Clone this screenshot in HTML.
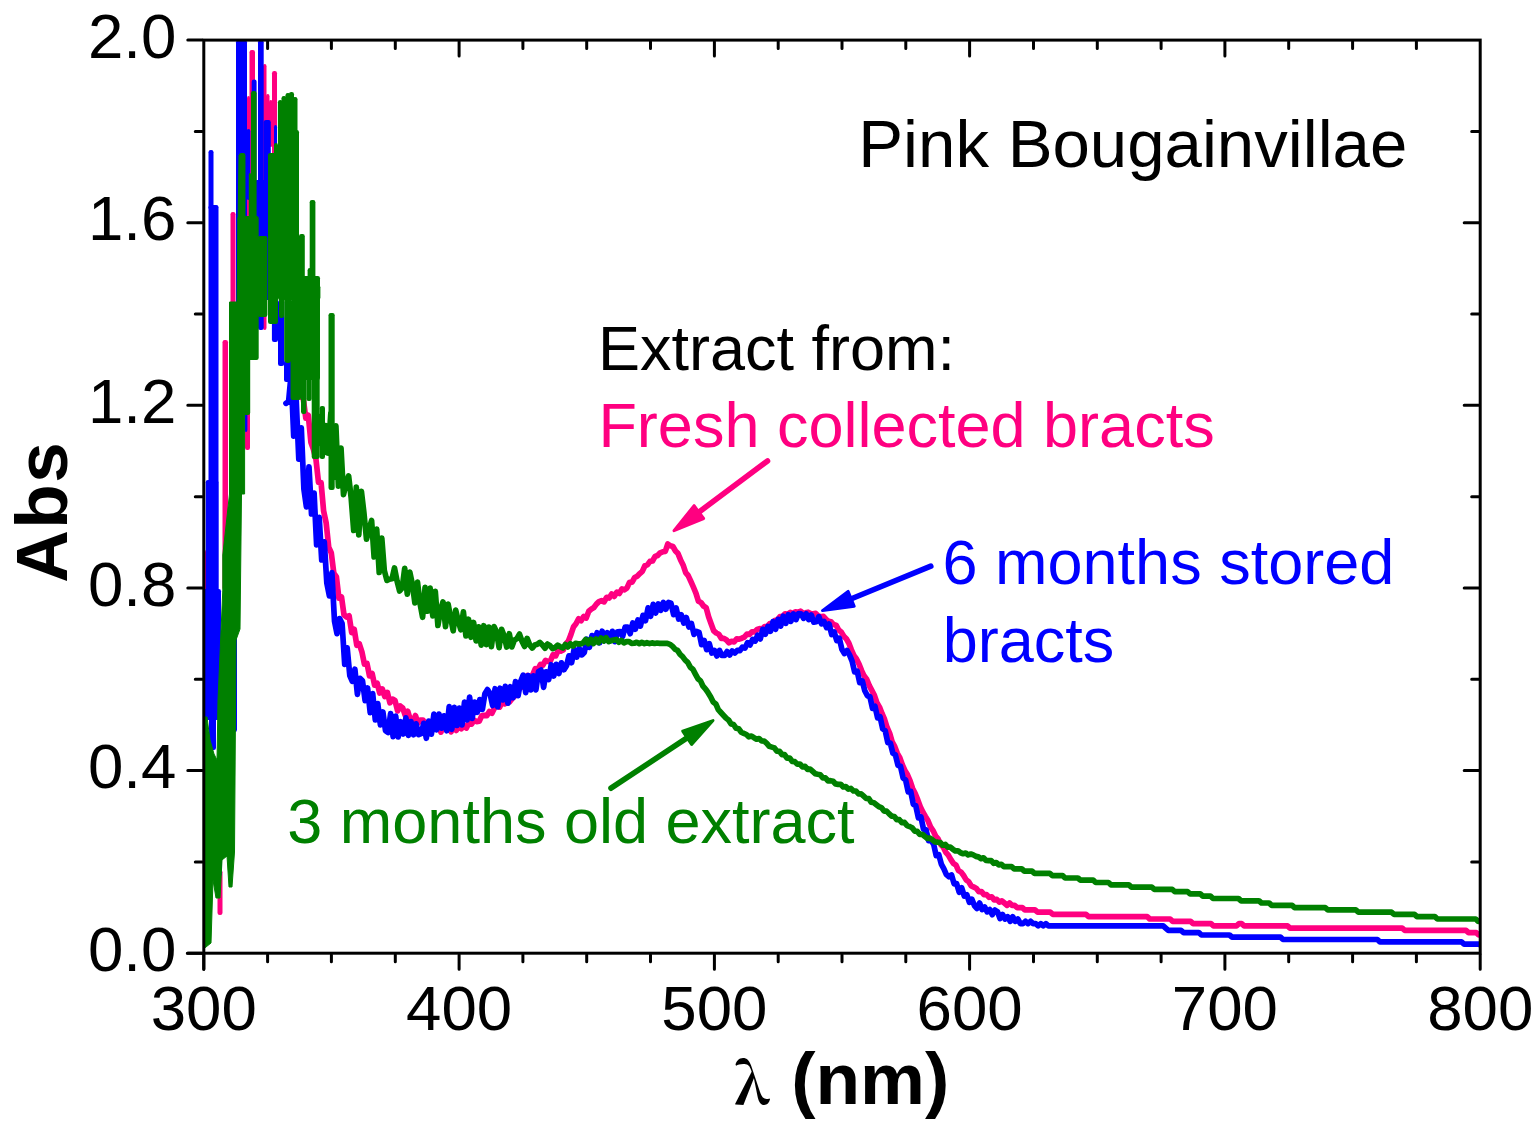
<!DOCTYPE html>
<html><head><meta charset="utf-8"><title>Pink Bougainvillae</title>
<style>html,body{margin:0;padding:0;background:#fff;overflow:hidden;width:1539px;height:1130px;}svg{display:block;}</style>
</head><body>
<svg width="1539" height="1130" viewBox="0 0 1539 1130"><clipPath id="c"><rect x="203.8" y="40.1" width="1276.4" height="913.1"/></clipPath>
<g clip-path="url(#c)">
<rect x="203.3" y="550.0" width="2.7" height="150.0" rx="2.2" fill="#FF0080"/>
<rect x="217.5" y="870.0" width="5.0" height="45.0" rx="2.2" fill="#FF0080"/>
<rect x="222.5" y="340.0" width="5.5" height="250.0" rx="2.2" fill="#FF0080"/>
<rect x="230.5" y="212.0" width="5.0" height="388.0" rx="2.2" fill="#FF0080"/>
<rect x="249.5" y="50.0" width="5.5" height="295.0" rx="2.2" fill="#FF0080"/>
<rect x="247.0" y="96.0" width="3.0" height="234.0" rx="2.2" fill="#FF0080"/>
<rect x="263.0" y="64.0" width="3.5" height="266.0" rx="2.2" fill="#FF0080"/>
<rect x="272.0" y="71.0" width="5.0" height="129.0" rx="2.2" fill="#FF0080"/>
<rect x="266.0" y="94.0" width="3.5" height="66.0" rx="2.2" fill="#FF0080"/>
<rect x="269.0" y="100.0" width="3.5" height="47.0" rx="2.2" fill="#FF0080"/>
<rect x="245.0" y="330.0" width="5.0" height="120.0" rx="2.2" fill="#FF0080"/>
<rect x="250.2" y="287.0" width="6.6" height="55.0" rx="2.2" fill="#FF0080"/>
<rect x="293.0" y="345.0" width="6.3" height="45.0" rx="2.2" fill="#FF0080"/>
<polyline points="293.0,353.2 295.6,371.6 298.1,374.6 300.7,397.2 303.2,397.9 305.8,418.1 308.3,415.3 310.9,442.2 313.4,449.3 316.0,459.6 318.5,482.5 321.1,482.7 323.6,510.9 326.2,523.2 328.7,547.1 331.3,553.0 333.8,573.1 336.4,576.8 338.9,598.2 341.5,596.9 344.0,615.0 346.6,617.0 349.1,615.7 351.7,632.6 354.2,629.3 356.8,645.3 359.3,643.8 361.9,651.8 364.4,664.1 367.0,663.5 369.5,675.9 372.1,673.4 374.6,685.2 377.2,683.2 379.7,693.0 382.3,689.0 384.8,696.5 387.4,692.4 389.9,702.8 392.5,699.1 395.0,700.5 397.6,710.9 400.1,705.9 402.7,708.0 405.2,715.2 407.8,711.3 410.3,719.8 412.9,721.4 415.4,715.5 418.0,723.0 420.5,720.2 423.1,720.0 425.6,726.3 428.2,722.3 430.7,728.0 433.3,723.2 435.8,728.2 438.4,726.0 440.9,732.1 443.5,725.7 446.0,728.0 448.6,727.5 451.1,731.8 453.7,726.7 456.2,730.4 458.8,726.4 461.3,728.8 463.9,725.3 466.4,728.1 469.0,722.8 471.5,724.1 474.1,720.1 476.6,721.7 479.2,721.3 481.7,715.9 484.3,715.4 486.8,715.7 489.4,711.5 491.9,713.3 494.5,707.9 497.0,704.9 499.6,707.1 502.1,702.2 504.7,703.8 507.2,699.4 509.8,701.6 512.3,698.4 514.9,695.9 517.4,693.4 520.0,686.2 522.5,687.0 525.1,678.3 527.6,675.4 530.2,677.2 532.7,674.8 535.3,668.6 537.8,669.6 540.4,664.4 542.9,665.2 545.5,660.5 548.0,661.4 550.6,660.3 553.1,654.6 555.7,655.9 558.2,650.3 560.8,651.1 563.3,650.0 565.9,643.9 568.4,641.0 570.9,634.6 573.5,626.9 576.0,623.8 578.6,618.8 581.1,620.8 583.7,616.5 586.2,618.0 588.8,611.2 591.3,609.1 593.9,607.5 596.4,604.1 599.0,601.6 601.5,600.7 604.1,601.9 606.6,597.3 609.2,598.0 611.7,594.0 614.3,596.4 616.8,592.1 619.4,593.5 621.9,588.9 624.5,589.8 627.0,587.9 629.6,582.3 632.1,582.1 634.7,577.5 637.2,576.2 639.8,573.6 642.3,571.4 644.9,565.7 647.4,564.9 650.0,561.4 652.5,561.0 655.1,556.4 657.6,555.5 660.2,552.8 662.7,551.8 665.3,551.4 667.8,544.0 670.4,545.8 672.9,546.5 675.5,551.0 678.0,553.6 680.6,559.9 683.1,564.9 685.7,572.6 688.2,575.6 690.8,581.2 693.3,586.9 695.9,593.1 698.4,601.2 701.0,602.5 703.5,606.0 706.1,607.6 708.6,616.8 711.2,624.0 713.7,630.8 716.3,633.0 718.8,634.2 721.4,638.5 723.9,638.4 726.5,640.0 729.0,642.8 731.6,641.3 734.1,641.9 736.7,638.9 739.2,639.1 741.8,638.2 744.3,637.1 746.9,634.2 749.4,634.4 752.0,631.8 754.5,632.0 757.1,629.4 759.6,628.6 762.2,629.0 764.7,626.5 767.3,626.4 769.8,623.5 772.4,623.3 774.9,620.4 777.5,619.6 780.0,616.7 782.6,616.5 785.1,613.8 787.7,614.3 790.2,612.4 792.8,613.5 795.3,611.8 797.9,612.4 800.4,611.2 803.0,613.0 805.5,612.8 808.1,612.2 810.6,613.5 813.2,613.8 815.7,613.4 818.3,616.1 820.8,616.8 823.4,616.4 825.9,619.2 828.5,621.2 831.0,621.8 833.6,624.6 836.1,625.2 838.7,630.1 841.2,632.0 843.8,636.2 846.3,638.7 848.9,643.2 851.4,649.8 854.0,655.6 856.5,659.0 859.1,664.2 861.6,670.6 864.2,676.1 866.7,679.3 869.3,685.6 871.8,690.4 874.4,695.4 876.9,702.6 879.5,707.1 882.0,713.5 884.6,719.5 887.1,727.5 889.7,733.3 892.2,742.0 894.8,746.7 897.3,753.3 899.9,758.0 902.4,764.9 905.0,770.6 907.5,774.8 910.1,780.8 912.6,788.4 915.2,793.6 917.7,799.7 920.3,806.7 922.8,811.9 925.4,816.5 927.9,820.5 930.5,826.9 933.0,830.6 935.6,836.0 938.1,838.9 940.7,844.4 943.2,847.0 945.8,852.3 948.3,855.1 950.9,859.7 953.4,863.4 956.0,865.1 958.5,870.6 961.1,872.1 963.6,875.5 966.2,879.9 968.7,881.7 971.3,885.9 973.8,887.1 976.4,888.5 978.9,891.7 981.5,891.6 984.0,894.6 986.6,894.6 989.1,897.3 991.7,896.8 994.2,899.9 996.8,899.4 999.3,902.1 1001.9,900.8 1004.4,903.0 1007.0,905.3 1009.5,903.0 1012.1,905.3 1014.6,905.3 1017.2,907.6 1019.7,907.6 1022.3,907.6 1024.8,909.9 1027.4,909.9 1029.9,909.9 1032.5,909.9 1035.0,909.9 1037.6,912.2 1040.1,912.2 1042.7,912.2 1045.2,912.2 1047.8,912.2 1050.3,912.2 1052.9,914.4 1055.4,914.4 1058.0,914.4 1060.5,914.4 1063.1,914.4 1065.6,914.4 1068.2,914.4 1070.7,914.4 1073.3,914.4 1075.8,914.4 1078.4,914.4 1080.9,914.4 1083.5,914.4 1086.0,914.4 1088.6,916.7 1091.1,916.7 1093.7,916.7 1096.2,916.7 1098.8,916.7 1101.3,916.7 1103.9,916.7 1106.4,916.7 1109.0,916.7 1111.5,916.7 1114.1,916.7 1116.6,916.7 1119.2,916.7 1121.7,916.7 1124.3,916.7 1126.8,916.7 1129.4,916.7 1131.9,916.7 1134.5,916.7 1137.0,916.7 1139.6,916.7 1142.1,916.7 1144.7,916.7 1147.2,916.7 1149.8,919.0 1152.3,919.0 1154.9,919.0 1157.4,919.0 1160.0,919.0 1162.5,919.0 1165.1,919.0 1167.6,919.0 1170.2,919.0 1172.7,921.3 1175.3,921.3 1177.8,921.3 1180.4,921.3 1182.9,921.3 1185.5,921.3 1188.0,921.3 1190.6,921.3 1193.1,923.6 1195.7,923.6 1198.2,923.6 1200.8,923.6 1203.3,923.6 1205.9,923.6 1208.4,923.6 1211.0,923.6 1213.5,925.8 1216.1,925.8 1218.6,925.8 1221.2,925.8 1223.7,925.8 1226.3,925.8 1228.8,925.8 1231.4,925.8 1233.9,925.8 1236.5,925.8 1239.0,923.6 1241.6,923.6 1244.1,925.8 1246.7,925.8 1249.2,925.8 1251.8,925.8 1254.3,925.8 1256.9,925.8 1259.4,925.8 1262.0,925.8 1264.5,925.8 1267.1,925.8 1269.6,925.8 1272.2,925.8 1274.7,925.8 1277.3,925.8 1279.8,925.8 1282.4,925.8 1284.9,925.8 1287.5,925.8 1290.0,928.1 1292.6,928.1 1295.1,928.1 1297.7,928.1 1300.2,928.1 1302.8,928.1 1305.3,928.1 1307.9,928.1 1310.4,928.1 1313.0,928.1 1315.5,928.1 1318.1,928.1 1320.6,928.1 1323.2,928.1 1325.7,928.1 1328.3,928.1 1330.8,928.1 1333.4,928.1 1335.9,928.1 1338.5,928.1 1341.0,928.1 1343.6,928.1 1346.1,928.1 1348.7,928.1 1351.2,928.1 1353.8,928.1 1356.3,928.1 1358.9,928.1 1361.4,928.1 1364.0,928.1 1366.5,928.1 1369.1,928.1 1371.6,928.1 1374.2,928.1 1376.7,928.1 1379.3,928.1 1381.8,928.1 1384.4,928.1 1386.9,928.1 1389.5,928.1 1392.0,928.1 1394.6,928.1 1397.1,928.1 1399.7,928.1 1402.2,928.1 1404.8,930.4 1407.3,930.4 1409.9,930.4 1412.4,930.4 1415.0,930.4 1417.5,930.4 1420.1,930.4 1422.6,930.4 1425.2,930.4 1427.7,930.4 1430.3,930.4 1432.8,930.4 1435.4,930.4 1437.9,930.4 1440.5,930.4 1443.0,930.4 1445.6,930.4 1448.1,930.4 1450.7,930.4 1453.2,930.4 1455.8,930.4 1458.3,930.4 1460.9,930.4 1463.4,930.4 1466.0,930.4 1468.5,932.7 1471.1,932.7 1473.6,932.7 1476.2,932.7 1478.7,935.0 1481.3,935.0 1482.0,936.0" fill="none" stroke="#FF0080" stroke-width="5.7" stroke-linejoin="round" stroke-linecap="round"/>
<rect x="208.5" y="150.0" width="5.0" height="60.0" rx="2.2" fill="#0000FF"/>
<rect x="208.5" y="205.0" width="10.0" height="515.0" rx="2.2" fill="#0000FF"/>
<rect x="205.7" y="480.0" width="12.7" height="240.0" rx="2.2" fill="#0000FF"/>
<rect x="203.0" y="589.0" width="18.0" height="129.0" rx="2.2" fill="#0000FF"/>
<rect x="209.0" y="700.0" width="7.0" height="50.0" rx="2.2" fill="#0000FF"/>
<rect x="233.0" y="630.0" width="4.0" height="102.0" rx="2.2" fill="#0000FF"/>
<rect x="236.0" y="40.0" width="11.0" height="290.0" rx="2.2" fill="#0000FF"/>
<rect x="236.0" y="300.0" width="3.0" height="54.0" rx="2.2" fill="#0000FF"/>
<rect x="258.0" y="40.0" width="5.7" height="290.0" rx="2.2" fill="#0000FF"/>
<rect x="255.0" y="180.0" width="11.5" height="99.0" rx="2.2" fill="#0000FF"/>
<rect x="251.7" y="79.6" width="4.9" height="120.4" rx="2.2" fill="#0000FF"/>
<rect x="246.7" y="129.0" width="3.6" height="71.0" rx="2.2" fill="#0000FF"/>
<rect x="263.7" y="120.0" width="7.1" height="180.0" rx="2.2" fill="#0000FF"/>
<rect x="274.0" y="125.0" width="3.0" height="175.0" rx="2.2" fill="#0000FF"/>
<rect x="271.9" y="300.0" width="6.1" height="42.0" rx="2.2" fill="#0000FF"/>
<rect x="278.0" y="300.0" width="6.2" height="66.0" rx="2.2" fill="#0000FF"/>
<rect x="284.0" y="360.0" width="12.6" height="22.0" rx="2.2" fill="#0000FF"/>
<rect x="244.6" y="330.0" width="2.8" height="102.0" rx="2.2" fill="#0000FF"/>
<rect x="217.3" y="833.0" width="4.7" height="43.0" rx="2.2" fill="#0000FF"/>
<polyline points="286.0,403.3 288.6,401.5 291.1,374.5 293.7,436.1 296.2,400.0 298.8,459.2 301.3,427.9 303.9,489.2 306.4,506.9 309.0,466.8 311.5,514.0 314.1,493.0 316.6,544.9 319.2,517.4 321.7,560.0 324.3,541.9 326.8,582.9 329.4,595.9 331.9,572.7 334.5,621.1 337.0,633.7 339.6,618.6 342.1,623.6 344.7,664.4 347.2,647.9 349.8,675.5 352.3,681.3 354.9,669.2 357.4,694.3 360.0,678.4 362.5,680.8 365.1,700.7 367.6,688.0 370.2,712.7 372.7,693.5 375.3,720.0 377.8,703.5 380.4,725.0 382.9,712.0 385.5,730.7 388.0,732.5 390.6,713.6 393.1,736.7 395.7,716.2 398.2,737.0 400.8,721.7 403.3,734.0 405.9,717.9 408.4,735.4 411.0,721.6 413.5,734.8 416.1,723.8 418.6,734.7 421.2,733.7 423.7,723.3 426.3,738.3 428.8,721.0 431.4,734.1 433.9,714.1 436.5,729.9 439.0,714.1 441.6,728.2 444.1,715.9 446.7,730.8 449.2,706.6 451.8,729.3 454.3,707.4 456.9,725.5 459.4,708.1 462.0,725.0 464.5,702.1 467.1,720.0 469.6,697.0 472.2,718.4 474.7,702.0 477.3,712.3 479.8,699.6 482.4,709.4 484.9,693.8 487.5,689.6 490.0,693.6 492.6,705.5 495.1,688.7 497.7,706.9 500.2,688.2 502.8,699.9 505.3,686.4 507.9,703.2 510.4,686.7 513.0,697.7 515.5,681.6 518.1,695.7 520.6,681.5 523.2,675.1 525.7,692.6 528.3,675.5 530.8,689.9 533.4,675.9 535.9,689.9 538.5,671.7 541.0,670.1 543.6,687.4 546.1,671.8 548.7,679.6 551.2,664.7 553.8,676.0 556.3,664.3 558.9,673.5 561.4,662.8 564.0,669.7 566.5,665.7 569.0,655.8 571.6,662.7 574.1,649.3 576.7,657.1 579.2,648.4 581.8,654.9 584.3,652.4 586.9,639.2 589.4,647.3 592.0,635.6 594.5,642.3 597.1,632.7 599.6,642.8 602.2,631.2 604.7,640.5 607.3,632.8 609.8,640.9 612.4,631.3 614.9,641.7 617.5,631.8 620.0,631.7 622.6,636.4 625.1,627.2 627.7,627.2 630.2,633.7 632.8,622.9 635.3,629.2 637.9,619.9 640.4,626.1 643.0,615.3 645.5,620.7 648.1,607.9 650.6,616.3 653.2,604.4 655.7,613.0 658.3,604.0 660.8,610.3 663.4,602.5 665.9,609.2 668.5,602.5 671.0,603.3 673.6,614.6 676.1,608.0 678.7,619.1 681.2,614.7 683.8,623.1 686.3,617.5 688.9,627.0 691.4,623.4 694.0,634.4 696.5,631.5 699.1,632.5 701.6,644.6 704.2,640.5 706.7,649.7 709.3,643.7 711.8,653.1 714.4,650.4 716.9,656.0 719.5,650.4 722.0,655.5 724.6,655.3 727.1,651.6 729.7,654.9 732.2,651.0 734.8,653.1 737.3,650.4 739.9,650.7 742.4,647.2 745.0,648.1 747.5,642.7 750.1,644.9 752.6,639.4 755.2,641.0 757.7,635.2 760.3,638.9 762.8,629.3 765.4,634.2 767.9,626.4 770.5,631.3 773.0,621.6 775.6,629.2 778.1,619.3 780.7,626.0 783.2,616.2 785.8,623.4 788.3,614.7 790.9,621.4 793.4,613.9 796.0,619.6 798.5,613.7 801.1,613.9 803.6,618.2 806.2,613.8 808.7,619.6 811.3,615.0 813.8,622.2 816.4,621.8 818.9,616.6 821.5,623.8 824.0,621.5 826.6,627.6 829.1,624.0 831.7,634.6 834.2,632.1 836.8,640.7 839.3,638.2 841.9,649.3 844.4,653.5 847.0,650.5 849.5,654.9 852.1,661.2 854.6,671.9 857.2,671.1 859.7,682.6 862.3,681.0 864.8,690.8 867.4,695.8 869.9,696.7 872.5,708.3 875.0,706.3 877.6,717.9 880.1,716.8 882.7,728.8 885.2,730.7 887.8,742.6 890.3,743.0 892.9,753.2 895.4,754.9 898.0,765.4 900.5,766.3 903.1,778.0 905.6,779.9 908.2,791.8 910.7,791.3 913.3,804.3 915.8,805.8 918.4,817.9 920.9,816.9 923.5,829.2 926.0,829.7 928.6,840.7 931.1,840.3 933.7,844.5 936.2,855.7 938.8,854.8 941.3,864.1 943.9,868.8 946.4,874.6 949.0,876.7 951.5,874.9 954.1,883.8 956.6,883.5 959.2,892.3 961.7,887.8 964.3,896.1 966.8,894.7 969.4,902.4 971.9,899.2 974.5,905.8 977.0,908.5 979.6,903.0 982.1,909.5 984.7,906.9 987.2,911.9 989.8,909.6 992.3,914.7 994.9,910.1 997.4,911.6 1000.0,918.6 1002.5,914.4 1005.1,919.0 1007.6,916.7 1010.2,921.3 1012.7,916.7 1015.3,921.3 1017.8,919.0 1020.4,923.6 1022.9,923.6 1025.5,921.3 1028.0,923.6 1030.6,921.3 1033.1,923.6 1035.7,923.6 1038.2,925.8 1040.8,923.6 1043.3,925.8 1045.9,923.6 1048.4,925.8 1051.0,925.8 1053.5,925.8 1056.1,925.8 1058.6,925.8 1061.2,925.8 1063.7,925.8 1066.3,925.8 1068.8,925.8 1071.4,925.8 1073.9,925.8 1076.5,925.8 1079.0,925.8 1081.6,925.8 1084.1,925.8 1086.7,925.8 1089.2,925.8 1091.8,925.8 1094.3,925.8 1096.9,925.8 1099.4,925.8 1102.0,925.8 1104.5,925.8 1107.1,925.8 1109.6,925.8 1112.2,925.8 1114.7,925.8 1117.3,925.8 1119.8,925.8 1122.4,925.8 1124.9,925.8 1127.5,925.8 1130.0,925.8 1132.6,925.8 1135.1,925.8 1137.7,925.8 1140.2,925.8 1142.8,925.8 1145.3,925.8 1147.9,925.8 1150.4,925.8 1153.0,925.8 1155.5,925.8 1158.1,925.8 1160.6,925.8 1163.2,925.8 1165.7,928.1 1168.3,930.4 1170.8,930.4 1173.4,930.4 1175.9,930.4 1178.5,930.4 1181.0,930.4 1183.6,932.7 1186.1,932.7 1188.7,932.7 1191.2,932.7 1193.8,932.7 1196.3,932.7 1198.9,932.7 1201.4,935.0 1204.0,935.0 1206.5,935.0 1209.1,935.0 1211.6,935.0 1214.2,935.0 1216.7,935.0 1219.3,935.0 1221.8,935.0 1224.4,935.0 1226.9,935.0 1229.5,935.0 1232.0,937.2 1234.6,937.2 1237.1,937.2 1239.7,937.2 1242.2,937.2 1244.8,937.2 1247.3,937.2 1249.9,937.2 1252.4,937.2 1255.0,937.2 1257.5,937.2 1260.1,937.2 1262.6,937.2 1265.2,937.2 1267.7,937.2 1270.3,937.2 1272.8,937.2 1275.4,937.2 1277.9,937.2 1280.5,937.2 1283.0,939.5 1285.6,939.5 1288.1,939.5 1290.7,939.5 1293.2,939.5 1295.8,939.5 1298.3,939.5 1300.9,939.5 1303.4,939.5 1306.0,939.5 1308.5,939.5 1311.1,939.5 1313.6,939.5 1316.2,939.5 1318.7,939.5 1321.3,939.5 1323.8,939.5 1326.4,939.5 1328.9,939.5 1331.5,939.5 1334.0,939.5 1336.6,939.5 1339.1,939.5 1341.7,939.5 1344.2,939.5 1346.8,939.5 1349.3,939.5 1351.9,939.5 1354.4,939.5 1357.0,939.5 1359.5,939.5 1362.1,939.5 1364.6,939.5 1367.2,939.5 1369.7,939.5 1372.3,939.5 1374.8,939.5 1377.4,939.5 1379.9,941.8 1382.5,941.8 1385.0,941.8 1387.6,941.8 1390.1,941.8 1392.7,941.8 1395.2,941.8 1397.8,941.8 1400.3,941.8 1402.9,941.8 1405.4,941.8 1408.0,941.8 1410.5,941.8 1413.1,941.8 1415.6,941.8 1418.2,941.8 1420.7,941.8 1423.3,941.8 1425.8,941.8 1428.4,941.8 1430.9,941.8 1433.5,941.8 1436.0,941.8 1438.6,941.8 1441.1,941.8 1443.7,941.8 1446.2,941.8 1448.8,941.8 1451.3,941.8 1453.9,941.8 1456.4,941.8 1459.0,941.8 1461.5,941.8 1464.1,944.1 1466.6,944.1 1469.2,944.1 1471.7,944.1 1474.3,944.1 1476.8,944.1 1479.4,944.1 1481.9,946.4 1482.0,946.0" fill="none" stroke="#0000FF" stroke-width="5.7" stroke-linejoin="round" stroke-linecap="round"/>
<polygon points="229.5,302.0 237.0,302.0 239.0,155.0 244.6,155.0 244.6,494.0 241.5,494.0 240.0,629.0 236.0,640.0 234.5,852.0 232.0,887.0 229.0,887.0 227.0,856.0 222.0,860.0 220.0,898.0 216.0,898.0 213.0,880.0 211.0,943.0 206.0,947.0 203.5,949.0 203.5,717.0 207.0,717.0 210.0,740.0 214.0,754.0 217.0,760.0 218.0,700.0 222.8,590.0 222.8,555.0 229.5,494.0" fill="#008000" stroke="#008000" stroke-width="1" stroke-linejoin="round"/>
<rect x="251.0" y="91.0" width="5.6" height="239.0" rx="2.2" fill="#008000"/>
<rect x="239.0" y="153.0" width="6.4" height="177.0" rx="2.2" fill="#008000"/>
<rect x="237.4" y="216.0" width="21.3" height="144.0" rx="2.2" fill="#008000"/>
<rect x="240.0" y="300.0" width="10.2" height="115.0" rx="2.2" fill="#008000"/>
<rect x="248.8" y="173.0" width="2.2" height="157.0" rx="2.2" fill="#008000"/>
<rect x="257.7" y="236.0" width="9.7" height="81.0" rx="2.2" fill="#008000"/>
<rect x="268.0" y="153.0" width="10.0" height="171.0" rx="2.2" fill="#008000"/>
<rect x="274.0" y="143.0" width="4.0" height="57.0" rx="2.2" fill="#008000"/>
<rect x="279.0" y="200.0" width="5.0" height="118.0" rx="2.2" fill="#008000"/>
<rect x="277.9" y="100.0" width="4.6" height="200.0" rx="2.2" fill="#008000"/>
<rect x="281.5" y="96.0" width="5.0" height="204.0" rx="2.2" fill="#008000"/>
<rect x="285.5" y="93.0" width="5.0" height="207.0" rx="2.2" fill="#008000"/>
<rect x="289.0" y="92.0" width="5.0" height="208.0" rx="2.2" fill="#008000"/>
<rect x="292.5" y="97.0" width="5.0" height="203.0" rx="2.2" fill="#008000"/>
<rect x="284.2" y="250.0" width="7.1" height="112.0" rx="2.2" fill="#008000"/>
<rect x="291.3" y="130.0" width="7.7" height="219.0" rx="2.2" fill="#008000"/>
<rect x="297.0" y="276.0" width="23.0" height="104.0" rx="2.2" fill="#008000"/>
<rect x="299.0" y="234.0" width="5.8" height="66.0" rx="2.2" fill="#008000"/>
<rect x="309.7" y="200.0" width="5.7" height="100.0" rx="2.2" fill="#008000"/>
<rect x="307.6" y="268.0" width="4.4" height="32.0" rx="2.2" fill="#008000"/>
<rect x="314.7" y="285.0" width="5.7" height="15.0" rx="2.2" fill="#008000"/>
<rect x="328.5" y="313.0" width="6.2" height="177.0" rx="2.2" fill="#008000"/>
<rect x="285.0" y="330.0" width="5.6" height="33.0" rx="2.2" fill="#008000"/>
<rect x="290.5" y="300.0" width="10.5" height="100.0" rx="2.2" fill="#008000"/>
<rect x="301.0" y="300.0" width="5.4" height="114.0" rx="2.2" fill="#008000"/>
<rect x="306.4" y="300.0" width="5.3" height="101.0" rx="2.2" fill="#008000"/>
<rect x="311.7" y="300.0" width="8.0" height="159.0" rx="2.2" fill="#008000"/>
<rect x="319.7" y="406.0" width="5.3" height="53.0" rx="2.2" fill="#008000"/>
<polyline points="318.0,443.6 320.6,416.4 323.1,453.6 325.7,425.6 328.2,453.2 330.8,413.7 333.3,477.6 335.9,425.8 338.4,486.1 341.0,448.0 343.5,494.6 346.1,483.7 348.6,475.9 351.2,498.2 353.7,530.5 356.3,487.2 358.8,534.9 361.4,491.3 363.9,512.5 366.5,539.2 369.0,529.2 371.6,520.5 374.1,557.0 376.7,529.1 379.2,572.5 381.8,538.2 384.3,570.4 386.9,580.4 389.4,579.2 392.0,578.8 394.5,568.0 397.1,581.3 399.6,591.0 402.2,587.9 404.7,568.4 407.3,594.2 409.8,572.0 412.4,584.3 414.9,603.0 417.5,582.2 420.0,603.3 422.6,617.3 425.1,587.3 427.7,611.1 430.2,588.2 432.8,615.9 435.3,591.4 437.9,625.5 440.4,610.9 443.0,601.9 445.5,626.6 448.1,604.1 450.6,617.4 453.2,630.8 455.7,610.1 458.3,621.1 460.8,629.8 463.4,611.9 465.9,636.0 468.5,619.2 471.0,637.3 473.6,622.5 476.1,640.9 478.7,626.8 481.2,645.1 483.8,625.7 486.3,644.6 488.9,627.0 491.4,646.6 494.0,626.6 496.5,631.7 499.1,647.6 501.6,629.3 504.2,636.0 506.7,647.0 509.3,633.7 511.8,646.9 514.4,640.0 516.9,638.7 519.5,634.1 522.0,641.2 524.6,646.5 527.1,638.4 529.7,644.9 532.2,648.1 534.8,645.0 537.3,644.3 539.9,642.4 542.4,645.0 545.0,648.2 547.5,644.1 550.1,645.7 552.6,648.7 555.2,647.4 557.7,645.2 560.2,646.7 562.8,648.0 565.3,644.6 567.9,646.9 570.4,643.8 573.0,646.1 575.5,643.3 578.1,643.9 580.6,643.8 583.2,642.8 585.7,639.5 588.3,643.7 590.8,639.2 593.4,643.6 595.9,639.0 598.5,642.6 601.0,638.0 603.6,641.0 606.1,637.8 608.7,641.6 611.2,640.6 613.8,640.0 616.3,639.4 618.9,642.2 621.4,640.4 624.0,642.8 626.5,641.7 629.1,641.7 631.6,643.3 634.2,643.2 636.7,642.3 639.3,643.6 641.8,642.4 644.4,643.6 646.9,642.7 649.5,643.6 652.0,642.9 654.6,643.5 657.1,643.0 659.7,643.3 662.2,643.3 664.8,643.4 667.3,643.3 669.9,644.3 672.4,646.2 675.0,649.2 677.5,650.4 680.1,654.4 682.6,656.6 685.2,660.1 687.7,662.3 690.3,667.2 692.8,669.2 695.4,674.1 697.9,678.7 700.5,680.9 703.0,686.2 705.6,689.1 708.1,692.7 710.7,696.9 713.2,701.9 715.8,703.9 718.3,709.6 720.9,712.5 723.4,715.2 726.0,718.0 728.5,719.9 731.1,724.0 733.6,724.6 736.2,728.3 738.7,728.8 741.3,732.2 743.8,733.4 746.4,734.5 748.9,736.8 751.5,736.1 754.0,737.7 756.6,739.2 759.1,738.5 761.7,741.0 764.2,741.1 766.8,743.4 769.3,746.3 771.9,747.1 774.4,747.9 777.0,751.2 779.5,751.4 782.1,754.6 784.6,754.7 787.2,758.2 789.7,758.1 792.3,761.4 794.8,761.7 797.4,764.2 799.9,764.0 802.5,766.9 805.0,766.3 807.6,769.4 810.1,769.0 812.7,771.4 815.2,773.7 817.8,774.3 820.3,774.8 822.9,777.9 825.4,777.9 828.0,780.8 830.5,780.7 833.1,781.3 835.6,783.9 838.2,784.4 840.7,784.3 843.3,787.0 845.8,786.6 848.4,789.1 850.9,788.4 853.5,791.0 856.0,791.0 858.6,794.0 861.1,793.9 863.7,796.2 866.2,798.5 868.8,798.7 871.3,802.3 873.9,802.8 876.4,804.8 879.0,806.8 881.5,807.6 884.1,811.1 886.6,811.1 889.2,813.9 891.7,816.2 894.3,816.5 896.8,819.6 899.4,819.7 901.9,822.7 904.5,822.4 907.0,825.6 909.6,826.5 912.1,827.7 914.7,831.1 917.2,831.4 919.8,834.5 922.3,834.3 924.9,836.5 927.4,838.4 930.0,838.2 932.5,839.9 935.1,841.9 937.6,842.2 940.2,842.6 942.7,845.2 945.3,844.4 947.8,847.2 950.4,847.2 952.9,849.3 955.5,851.0 958.0,850.8 960.6,852.8 963.1,853.7 965.7,853.0 968.2,854.9 970.8,854.0 973.3,854.9 975.9,856.4 978.4,856.9 981.0,858.7 983.5,857.8 986.1,860.4 988.6,860.6 991.2,860.6 993.7,863.3 996.3,862.5 998.8,864.9 1001.4,864.3 1003.9,866.6 1006.5,866.6 1009.0,866.6 1011.6,866.6 1014.1,868.8 1016.7,868.8 1019.2,868.8 1021.8,868.8 1024.3,871.1 1026.9,871.1 1029.4,871.1 1032.0,871.1 1034.5,873.4 1037.1,873.4 1039.6,873.4 1042.2,873.4 1044.7,873.4 1047.3,873.4 1049.8,873.4 1052.4,875.7 1054.9,875.7 1057.5,875.7 1060.0,875.7 1062.6,875.7 1065.1,878.0 1067.7,878.0 1070.2,878.0 1072.8,878.0 1075.3,878.0 1077.9,878.0 1080.4,880.2 1083.0,880.2 1085.5,880.2 1088.1,880.2 1090.6,880.2 1093.2,880.2 1095.7,882.5 1098.3,882.5 1100.8,882.5 1103.4,882.5 1105.9,882.5 1108.5,882.5 1111.0,884.8 1113.6,884.8 1116.1,884.8 1118.7,884.8 1121.2,884.8 1123.8,884.8 1126.3,884.8 1128.9,884.8 1131.4,887.1 1134.0,887.1 1136.5,887.1 1139.1,887.1 1141.6,887.1 1144.2,887.1 1146.7,887.1 1149.3,887.1 1151.8,887.1 1154.4,889.4 1156.9,889.4 1159.5,889.4 1162.0,889.4 1164.6,889.4 1167.1,889.4 1169.7,889.4 1172.2,889.4 1174.8,891.6 1177.3,891.6 1179.9,891.6 1182.4,891.6 1185.0,891.6 1187.5,891.6 1190.1,893.9 1192.6,893.9 1195.2,893.9 1197.7,893.9 1200.3,893.9 1202.8,896.2 1205.4,896.2 1207.9,896.2 1210.5,896.2 1213.0,898.5 1215.6,898.5 1218.1,898.5 1220.7,898.5 1223.2,898.5 1225.8,898.5 1228.3,898.5 1230.9,898.5 1233.4,898.5 1236.0,898.5 1238.5,898.5 1241.1,900.8 1243.6,900.8 1246.2,900.8 1248.7,900.8 1251.3,900.8 1253.8,900.8 1256.4,900.8 1258.9,900.8 1261.5,903.0 1264.0,903.0 1266.6,903.0 1269.1,903.0 1271.7,905.3 1274.2,905.3 1276.8,905.3 1279.3,905.3 1281.9,905.3 1284.4,905.3 1287.0,905.3 1289.5,905.3 1292.1,905.3 1294.6,907.6 1297.2,907.6 1299.7,907.6 1302.3,907.6 1304.8,907.6 1307.4,907.6 1309.9,907.6 1312.5,907.6 1315.0,907.6 1317.6,907.6 1320.1,907.6 1322.7,907.6 1325.2,907.6 1327.8,909.9 1330.3,909.9 1332.9,909.9 1335.4,909.9 1338.0,909.9 1340.5,909.9 1343.1,909.9 1345.6,909.9 1348.2,909.9 1350.7,909.9 1353.3,909.9 1355.8,909.9 1358.4,912.2 1360.9,912.2 1363.5,912.2 1366.0,912.2 1368.6,912.2 1371.1,912.2 1373.7,912.2 1376.2,912.2 1378.8,912.2 1381.3,912.2 1383.9,912.2 1386.4,912.2 1389.0,912.2 1391.5,912.2 1394.1,914.4 1396.6,914.4 1399.2,914.4 1401.7,914.4 1404.3,914.4 1406.8,914.4 1409.4,914.4 1411.9,914.4 1414.5,914.4 1417.0,916.7 1419.6,916.7 1422.1,916.7 1424.7,916.7 1427.2,916.7 1429.8,916.7 1432.3,916.7 1434.9,916.7 1437.4,919.0 1440.0,919.0 1442.5,919.0 1445.1,919.0 1447.6,919.0 1450.2,919.0 1452.7,919.0 1455.3,919.0 1457.8,919.0 1460.4,919.0 1462.9,919.0 1465.5,919.0 1468.0,919.0 1470.6,919.0 1473.1,919.0 1475.7,919.0 1478.2,921.3 1480.8,921.3 1482.0,922.0" fill="none" stroke="#008000" stroke-width="5.7" stroke-linejoin="round" stroke-linecap="round"/>
</g>
<line x1="767.5" y1="461.0" x2="696.5" y2="513.9" stroke="#FF0080" stroke-width="5.6" stroke-linecap="round"/>
<polygon points="674.0,530.6 694.1,505.7 703.6,518.5" fill="#FF0080" stroke="#FF0080" stroke-width="3" stroke-linejoin="round"/>
<line x1="930.8" y1="566.2" x2="848.4" y2="600.0" stroke="#0000FF" stroke-width="5.6" stroke-linecap="round"/>
<polygon points="822.5,610.6 848.1,591.4 854.2,606.2" fill="#0000FF" stroke="#0000FF" stroke-width="3" stroke-linejoin="round"/>
<line x1="611.0" y1="788.2" x2="689.7" y2="736.1" stroke="#008000" stroke-width="5.6" stroke-linecap="round"/>
<polygon points="713.0,720.6 691.6,744.4 682.7,731.1" fill="#008000" stroke="#008000" stroke-width="3" stroke-linejoin="round"/>
<rect x="203.8" y="40.1" width="1276.4" height="913.1" fill="none" stroke="#000" stroke-width="3"/>
<path d="M203.8,954.7v14.5 M267.6,954.7v7.0 M267.6,41.6v7.0 M331.4,954.7v7.0 M331.4,41.6v7.0 M395.3,954.7v7.0 M395.3,41.6v7.0 M459.1,954.7v14.5 M459.1,41.6v14.5 M522.9,954.7v7.0 M522.9,41.6v7.0 M586.7,954.7v7.0 M586.7,41.6v7.0 M650.5,954.7v7.0 M650.5,41.6v7.0 M714.4,954.7v14.5 M714.4,41.6v14.5 M778.2,954.7v7.0 M778.2,41.6v7.0 M842.0,954.7v7.0 M842.0,41.6v7.0 M905.8,954.7v7.0 M905.8,41.6v7.0 M969.6,954.7v14.5 M969.6,41.6v14.5 M1033.5,954.7v7.0 M1033.5,41.6v7.0 M1097.3,954.7v7.0 M1097.3,41.6v7.0 M1161.1,954.7v7.0 M1161.1,41.6v7.0 M1224.9,954.7v14.5 M1224.9,41.6v14.5 M1288.7,954.7v7.0 M1288.7,41.6v7.0 M1352.6,954.7v7.0 M1352.6,41.6v7.0 M1416.4,954.7v7.0 M1416.4,41.6v7.0 M1480.2,954.7v14.5 M202.3,953.2h-14.5 M202.3,861.9h-7.0 M1478.7,861.9h-7.0 M202.3,770.6h-14.5 M1478.7,770.6h-14.5 M202.3,679.3h-7.0 M1478.7,679.3h-7.0 M202.3,588.0h-14.5 M1478.7,588.0h-14.5 M202.3,496.7h-7.0 M1478.7,496.7h-7.0 M202.3,405.3h-14.5 M1478.7,405.3h-14.5 M202.3,314.0h-7.0 M1478.7,314.0h-7.0 M202.3,222.7h-14.5 M1478.7,222.7h-14.5 M202.3,131.4h-7.0 M1478.7,131.4h-7.0 M202.3,40.1h-14.5" stroke="#000" stroke-width="3" stroke-linecap="round" fill="none"/>
<path d="M187.3,953.2H203.8 M203.8,953.2V969.2" stroke="#000" stroke-width="3" stroke-linecap="round"/>
<text x="176.3" y="970.8" text-anchor="end" font-size="63.6" font-family='"Liberation Sans", Arial, sans-serif'>0.0</text>
<text x="176.3" y="788.2" text-anchor="end" font-size="63.6" font-family='"Liberation Sans", Arial, sans-serif'>0.4</text>
<text x="176.3" y="605.6" text-anchor="end" font-size="63.6" font-family='"Liberation Sans", Arial, sans-serif'>0.8</text>
<text x="176.3" y="422.9" text-anchor="end" font-size="63.6" font-family='"Liberation Sans", Arial, sans-serif'>1.2</text>
<text x="176.3" y="240.3" text-anchor="end" font-size="63.6" font-family='"Liberation Sans", Arial, sans-serif'>1.6</text>
<text x="176.3" y="57.7" text-anchor="end" font-size="63.6" font-family='"Liberation Sans", Arial, sans-serif'>2.0</text>
<text x="203.8" y="1029.7" text-anchor="middle" font-size="63.6" font-family='"Liberation Sans", Arial, sans-serif'>300</text>
<text x="459.1" y="1029.7" text-anchor="middle" font-size="63.6" font-family='"Liberation Sans", Arial, sans-serif'>400</text>
<text x="714.4" y="1029.7" text-anchor="middle" font-size="63.6" font-family='"Liberation Sans", Arial, sans-serif'>500</text>
<text x="969.6" y="1029.7" text-anchor="middle" font-size="63.6" font-family='"Liberation Sans", Arial, sans-serif'>600</text>
<text x="1224.9" y="1029.7" text-anchor="middle" font-size="63.6" font-family='"Liberation Sans", Arial, sans-serif'>700</text>
<text x="1480.2" y="1029.7" text-anchor="middle" font-size="63.6" font-family='"Liberation Sans", Arial, sans-serif'>800</text>
<text transform="translate(66.9,582.7) rotate(-90)" font-size="73" font-weight="bold" letter-spacing="1.3" font-family='"Liberation Sans", Arial, sans-serif'>Abs</text>
<text x="733.9" y="1103.6" font-size="56.7" font-weight="700" font-family='"Noto Serif CJK SC", "Liberation Serif", serif'>λ</text>
<text x="791.2" y="1103.6" font-size="73" font-weight="bold" font-family='"Liberation Sans", Arial, sans-serif'>(nm)</text>
<text x="858.3" y="166.7" font-size="67.2" font-family='"Liberation Sans", Arial, sans-serif'>Pink Bougainvillae</text>
<text x="598" y="370.1" font-size="63" font-family='"Liberation Sans", Arial, sans-serif'>Extract from:</text>
<text x="598.4" y="447.3" font-size="63" fill="#FF0080" font-family='"Liberation Sans", Arial, sans-serif'>Fresh collected bracts</text>
<text x="942.5" y="584.0" font-size="63" fill="#0000FF" font-family='"Liberation Sans", Arial, sans-serif'>6 months stored</text>
<text x="942.7" y="661.6" font-size="63" fill="#0000FF" font-family='"Liberation Sans", Arial, sans-serif'>bracts</text>
<text x="287.3" y="842.8" font-size="63" fill="#008000" font-family='"Liberation Sans", Arial, sans-serif'>3 months old extract</text></svg>
</body></html>
